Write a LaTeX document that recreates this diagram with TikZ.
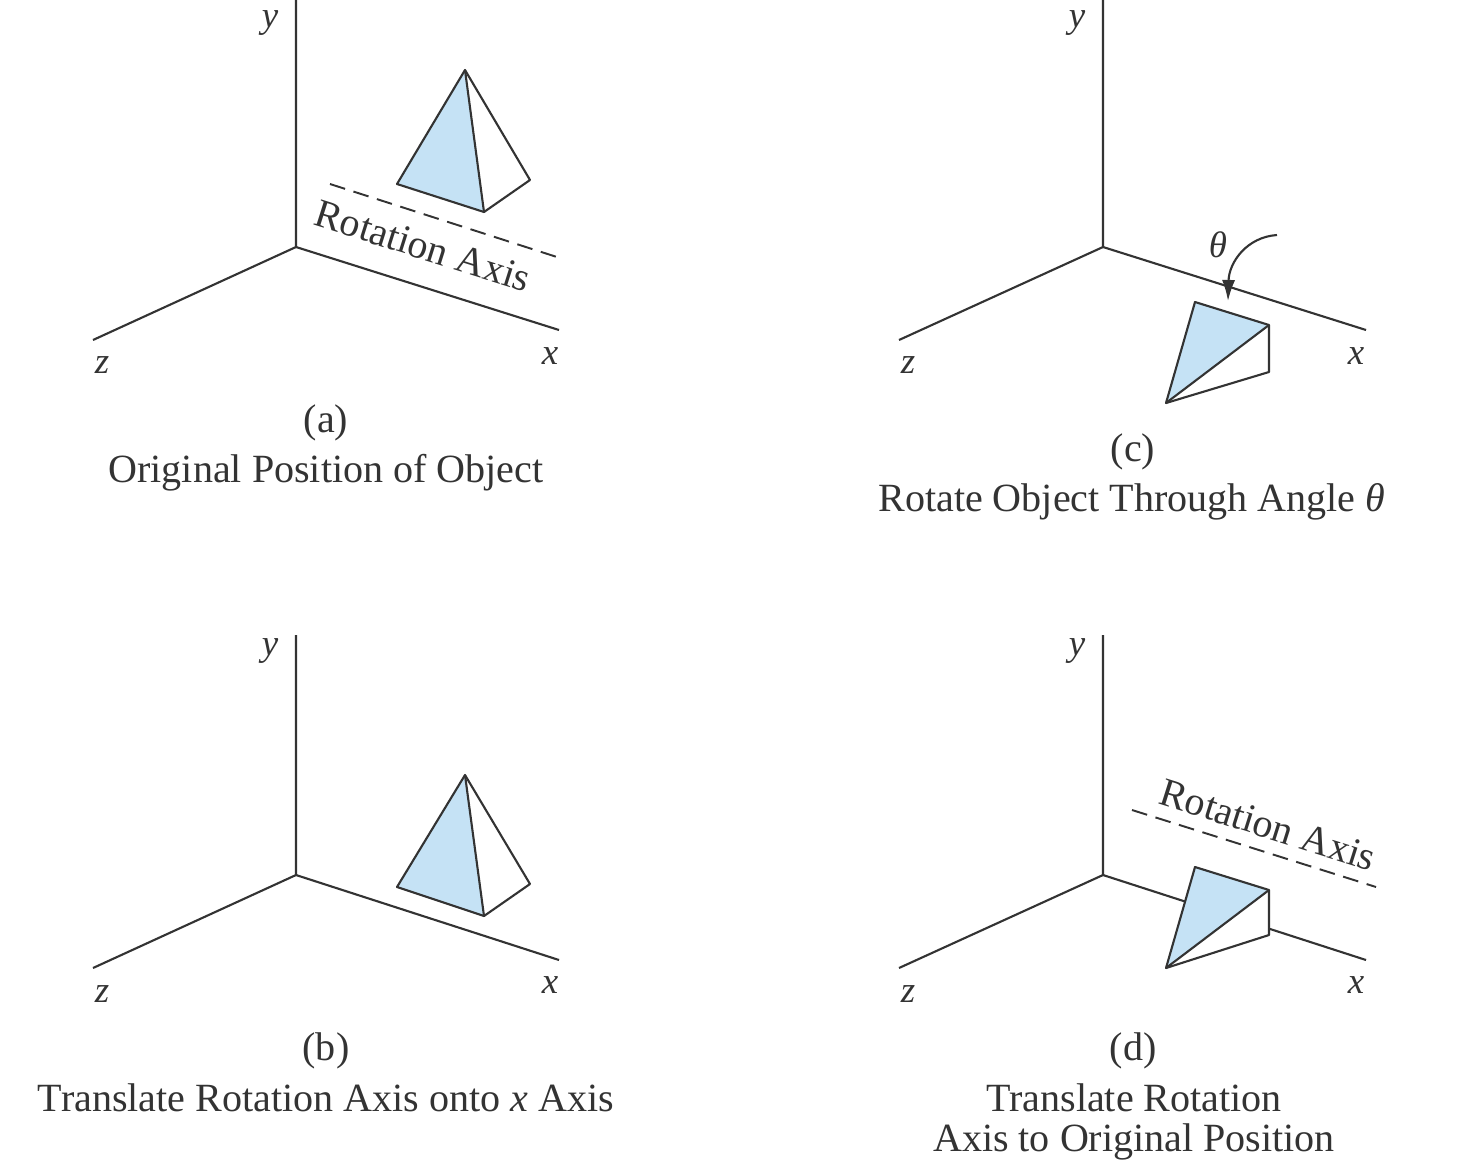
\documentclass[tikz,border=0pt]{standalone}
\usepackage{fontspec}
\setmainfont{Liberation Serif}
\usetikzlibrary{arrows.meta}
\definecolor{ink}{HTML}{333333}
\definecolor{paleblue}{HTML}{C5E2F5}
\tikzset{
  axisline/.style={draw=ink,line width=1.2pt},
  edgeline/.style={draw=ink,line width=1.2pt,line join=round},
  bluefill/.style={fill=paleblue},
  whitefill/.style={fill=white},
  axislabel/.style={text=ink,font=\fontsize{21}{24}\selectfont\itshape,inner sep=0pt},
  caption/.style={text=ink,font=\fontsize{22.8}{26}\selectfont,inner sep=0pt,align=center},
  slanted/.style={text=ink,font=\fontsize{22.8}{26}\selectfont,inner sep=0pt,rotate=-17.5},
  axisdash/.style={draw=ink,line width=1.1pt,dash pattern=on 9pt off 5pt},
}
\begin{document}
\begin{tikzpicture}[x=0.02cm,y=-0.02cm]
\useasboundingbox (0,0) rectangle (1470,1174);
% Panel a
\coordinate (aO) at (296,247); \coordinate (aY) at (296,0); \coordinate (aZ) at (93,340); \coordinate (aX) at (559,330);
\draw[axisline] (aY) -- (aO) -- (aZ); \draw[axisline] (aO) -- (aX);
\node[axislabel] (aYl) at (270,23) {y};
\node[axislabel] (aZl) at (102,365) {z};
\node[axislabel] (aXl) at (550,356) {x};
\coordinate (aT) at (465,70); \coordinate (aL) at (397,184); \coordinate (aF) at (484,212); \coordinate (aR) at (530,180);
\path[bluefill] (aT) -- (aL) -- (aF) -- cycle;
\draw[edgeline] (aT) -- (aL) -- (aF) -- (aR) -- cycle; \draw[edgeline] (aT) -- (aF);
\coordinate (aD1) at (330,184); \coordinate (aD2) at (560,258);
\draw[axisdash] (aD1) -- (aD2);
\node[slanted] (aRot) at (423,246) {Rotation Axis};
\node[caption] (aCap1) at (326,423) {(a)};
\node[caption] (aCap2) at (326,473) {Original Position\ of Object};
% Panel c
\coordinate (cO) at (1103,247); \coordinate (cY) at (1103,0); \coordinate (cZ) at (899,340); \coordinate (cX) at (1366,330);
\draw[axisline] (cY) -- (cO) -- (cZ); \draw[axisline] (cO) -- (cX);
\node[axislabel] (cYl) at (1077,23) {y};
\node[axislabel] (cZl) at (908,365) {z};
\node[axislabel] (cXl) at (1356,356) {x};
\coordinate (cA) at (1195,302); \coordinate (cB) at (1269,325); \coordinate (cC) at (1269,372); \coordinate (cD) at (1166,403);
\path[bluefill] (cA) -- (cB) -- (cD) -- cycle;
\draw[edgeline] (cA) -- (cB) -- (cC) -- (cD) -- cycle; \draw[edgeline] (cB) -- (cD);
\node[axislabel] (cTh) at (1218,245) {θ};
\coordinate (cAs) at (1277,235); \coordinate (cAe) at (1228,301);
\draw[axisline,-{Latex[length=12pt,width=7.5pt]}] (cAs) .. controls (1247,237) and (1229,262) .. (cAe);
\node[caption] (cCap1) at (1133,452) {(c)};
\begin{scope}
\clip (860,470) rectangle (1390,530);
\node[caption,anchor=west] (cCap2) at (878,502) {Rotate Object Through Angle \textit{θ}};
\end{scope}
% Panel b
\coordinate (bO) at (296,875); \coordinate (bY) at (296,635); \coordinate (bZ) at (93,968); \coordinate (bX) at (559,960);
\draw[axisline] (bY) -- (bO) -- (bZ); \draw[axisline] (bO) -- (bX);
\node[axislabel] (bYl) at (270,651) {y};
\node[axislabel] (bZl) at (102,994) {z};
\node[axislabel] (bXl) at (550,985) {x};
\coordinate (bT) at (465,775); \coordinate (bL) at (397,887); \coordinate (bF) at (484,916); \coordinate (bR) at (530,884);
\path[whitefill] (bT) -- (bL) -- (bF) -- (bR) -- cycle;
\path[bluefill] (bT) -- (bL) -- (bF) -- cycle;
\draw[edgeline] (bT) -- (bL) -- (bF) -- (bR) -- cycle; \draw[edgeline] (bT) -- (bF);
\node[caption] (bCap1) at (326,1051) {(b)};
\node[caption] (bCap2) at (326,1098) {Translate Rotation Axis onto \textit{x} Axis};
% Panel d
\coordinate (dO) at (1103,875); \coordinate (dY) at (1103,635); \coordinate (dZ) at (899,968); \coordinate (dX) at (1366,960);
\draw[axisline] (dY) -- (dO) -- (dZ); \draw[axisline] (dO) -- (dX);
\node[axislabel] (dYl) at (1077,651) {y};
\node[axislabel] (dZl) at (908,994) {z};
\node[axislabel] (dXl) at (1356,985) {x};
\coordinate (dA) at (1195,867); \coordinate (dB) at (1269,890); \coordinate (dC) at (1269,935); \coordinate (dD) at (1166,968);
\path[whitefill] (dA) -- (dB) -- (dC) -- (dD) -- cycle;
\path[bluefill] (dA) -- (dB) -- (dD) -- cycle;
\draw[edgeline] (dA) -- (dB) -- (dC) -- (dD) -- cycle; \draw[edgeline] (dB) -- (dD);
\coordinate (dD1) at (1132,810); \coordinate (dD2) at (1376,887);
\draw[axisdash] (dD1) -- (dD2);
\node[slanted] (dRot) at (1268,825) {Rotation Axis};
\node[caption] (dCap1) at (1133,1051) {(d)};
\node[caption] (dCap2) at (1134,1098) {Translate Rotation};
\node[caption] (dCap3) at (1134,1142) {Axis to Original Position};
\end{tikzpicture}
\end{document}
